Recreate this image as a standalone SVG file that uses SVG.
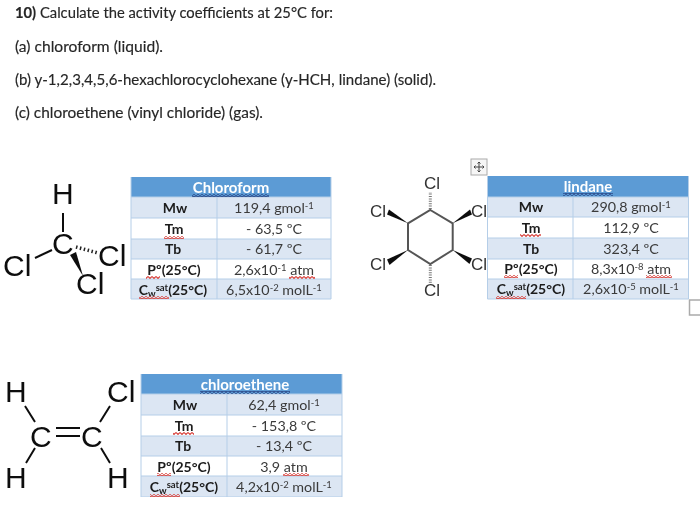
<svg xmlns="http://www.w3.org/2000/svg" width="700" height="508" viewBox="0 0 700 508">
<style>
.q{font:14.8px Lato,"Liberation Sans",sans-serif;fill:#262626;stroke:#262626;stroke-width:.15}
.b{font-weight:700}
.h{font:700 15px Lato,"Liberation Sans",sans-serif;fill:#fff;text-anchor:middle}
.l{font:700 14px Lato,"Liberation Sans",sans-serif;fill:#1c1c1c;text-anchor:middle}
.v{font:14.300px Lato,"Liberation Sans",sans-serif;fill:#3a3a3a;text-anchor:middle}
.s{font-size:9.500px}
.at{font:30px "Liberation Sans",Arial,sans-serif;fill:#111}
.at2{font:17px "Liberation Sans",Arial,sans-serif;fill:#333}
.bond{stroke:#111;stroke-width:2;fill:none}
.ring{stroke:#555;stroke-width:2;fill:none}
.hash{stroke:#222;stroke-dasharray:1.500 2.500;fill:none}
.hash2{stroke:#777;stroke-width:3;stroke-dasharray:1 1.400;fill:none}
.top{fill:#5b9bd5}
.alt{fill:#dce6f3}
.wht{fill:#fff}
.grid{fill:none;stroke:#b5cee8;stroke-width:1}
</style>
<defs>
<filter id="soft" x="0" y="0" width="100%" height="100%"><feGaussianBlur stdDeviation="0.35"/></filter>
<pattern id="red" width="4" height="3" patternUnits="userSpaceOnUse"><path d="M0 .5L2 2.500L4 .5" fill="none" stroke="#d8423c" stroke-width="1.100"/></pattern>
<pattern id="blue" width="4" height="3" patternUnits="userSpaceOnUse"><path d="M0 .5L2 2.500L4 .5" fill="none" stroke="#2a4a8a" stroke-width="1.100"/></pattern>
</defs>
<rect width="700" height="508" fill="#fff"/>
<g filter="url(#soft)">
<g id="question">
<text class="q" x="15" y="18" textLength="318" lengthAdjust="spacingAndGlyphs"><tspan class="b">10)</tspan> Calculate the activity coefficients at 25°C for:</text>
<text class="q" x="15" y="52" textLength="148" lengthAdjust="spacingAndGlyphs">(a) chloroform (liquid).</text>
<text class="q" x="15" y="85" textLength="421" lengthAdjust="spacingAndGlyphs">(b) y-1,2,3,4,5,6-hexachlorocyclohexane (y-HCH, lindane) (solid).</text>
<text class="q" x="15" y="118" textLength="248" lengthAdjust="spacingAndGlyphs">(c) chloroethene (vinyl chloride) (gas).</text>
</g>

<g id="chloroform-molecule">
<text class="at" x="52" y="204">H</text>
<text class="at" x="52" y="254">C</text>
<text class="at" x="98" y="266">Cl</text>
<text class="at" x="3" y="276">Cl</text>
<text class="at" x="76" y="294">Cl</text>
<path class="bond" d="M63 213V232M35 258L52 250"/>
<path class="hash" d="M76 247L98 253" style="stroke-width:3.500"/>
<path d="M70 255L76 252L83 276Z" fill="#111"/>
</g>

<g id="chloroform-table">
<rect class="top" x="131" y="177" width="200" height="20"/>
<rect class="alt" x="131" y="197" width="200" height="21"/>
<rect class="wht" x="131" y="218" width="200" height="21"/>
<rect class="alt" x="131" y="239" width="200" height="20"/>
<rect class="wht" x="131" y="259" width="200" height="20"/>
<rect class="alt" x="131" y="279" width="200" height="20"/>
<path class="grid" d="M131 197H331M131 218H331M131 239H331M131 259H331M131 279H331M217 197V299M131 177V299M331 177V299M131 299H331"/>
<text class="h" x="231" y="193">Chloroform</text>
<rect x="192" y="194" width="77" height="3" fill="url(#blue)"/>
<text class="l" x="175" y="213">Mw</text>
<text class="v" x="274" y="213">119,4 gmol<tspan class="s" dy="-4">-1</tspan></text>
<text class="l" x="174" y="234">Tm</text>
<rect x="164" y="236" width="20" height="3" fill="url(#red)"/>
<text class="v" x="274" y="234">- 63,5 ºC</text>
<text class="l" x="173" y="254">Tb</text>
<text class="v" x="274" y="254">- 61,7 ºC</text>
<text class="l" x="174" y="275">Pº(25°C)</text>
<rect x="146" y="276" width="14" height="3" fill="url(#red)"/>
<text class="v" x="274" y="275">2,6x10<tspan class="s" dy="-4">-1</tspan><tspan dy="4"> atm</tspan></text>
<rect x="289" y="276" width="26" height="3" fill="url(#red)"/>
<text class="l" x="173" y="295">C<tspan class="s" dy="2">w</tspan><tspan class="s" dy="-6">sat</tspan><tspan dy="4">(25°C)</tspan></text>
<rect x="139" y="296" width="30" height="3" fill="url(#red)"/>
<text class="v" x="274" y="295">6,5x10<tspan class="s" dy="-4">-2</tspan><tspan dy="4"> molL</tspan><tspan class="s" dy="-4">-1</tspan></text>
</g>

<g id="lindane-molecule">
<path class="ring" d="M430.300 210L452.700 223.300V250L430.300 264L408 250V223.300Z"/>
<path d="M408 223.300L389 209.500L387 214.500Z" fill="#111"/>
<path d="M452.700 223.300L470 209.500L472 214.500Z" fill="#111"/>
<path d="M408 250L387 259.500L389.500 265Z" fill="#111"/>
<path d="M452.700 250L472 258.500L469.500 264Z" fill="#111"/>
<path class="hash2" d="M430.300 209V192M430.300 265V283"/>
<text class="at2" x="424" y="189">Cl</text>
<text class="at2" x="424" y="296">Cl</text>
<text class="at2" x="370" y="217">Cl</text>
<text class="at2" x="471" y="217">Cl</text>
<text class="at2" x="370" y="270">Cl</text>
<text class="at2" x="471" y="270">Cl</text>
</g>

<g id="move-handle">
<rect x="471" y="159" width="16" height="16" fill="#f6f6f6" stroke="#aaa"/>
<path d="M479 162V172M474 167H484M477.500 163.500L479 162L480.500 163.500M477.500 170.500L479 172L480.500 170.500M475.500 165.500L474 167L475.500 168.500M482.500 165.500L484 167L482.500 168.500" fill="none" stroke="#444" stroke-width="1"/>
</g>

<g id="lindane-table">
<rect class="top" x="487.500" y="176" width="201" height="21"/>
<rect class="alt" x="487.500" y="197" width="201" height="20"/>
<rect class="wht" x="487.500" y="217" width="201" height="21"/>
<rect class="alt" x="487.500" y="238" width="201" height="21"/>
<rect class="wht" x="487.500" y="259" width="201" height="20"/>
<rect class="alt" x="487.500" y="279" width="201" height="20"/>
<path class="grid" d="M487.500 197H688.500M487.500 217H688.500M487.500 238H688.500M487.500 259H688.500M487.500 279H688.500M573 197V299M487.500 176V299M688.500 176V299M487.500 299H688.500"/>
<text class="h" x="588" y="192">lindane</text>
<rect x="563" y="193" width="50" height="3" fill="url(#blue)"/>
<text class="l" x="531" y="212">Mw</text>
<text class="v" x="631" y="212">290,8 gmol<tspan class="s" dy="-4">-1</tspan></text>
<text class="l" x="531" y="233">Tm</text>
<rect x="520" y="234" width="21" height="3" fill="url(#red)"/>
<text class="v" x="631" y="233">112,9 ºC</text>
<text class="l" x="531" y="254">Tb</text>
<text class="v" x="631" y="254">323,4 ºC</text>
<text class="l" x="531" y="274">Pº(25°C)</text>
<rect x="504" y="275" width="14" height="3" fill="url(#red)"/>
<text class="v" x="631" y="274">8,3x10<tspan class="s" dy="-4">-8</tspan><tspan dy="4"> atm</tspan></text>
<rect x="646" y="275" width="26" height="3" fill="url(#red)"/>
<text class="l" x="531" y="294">C<tspan class="s" dy="2">w</tspan><tspan class="s" dy="-6">sat</tspan><tspan dy="4">(25°C)</tspan></text>
<rect x="496" y="296" width="30" height="3" fill="url(#red)"/>
<text class="v" x="631" y="294">2,6x10<tspan class="s" dy="-4">-5</tspan><tspan dy="4"> molL</tspan><tspan class="s" dy="-4">-1</tspan></text>
</g>

<path id="resize-handle" d="M700 300H689.500V315H700" fill="none" stroke="#aaa" stroke-width="1.500"/>

<g id="chloroethene-molecule">
<text class="at" x="5" y="402">H</text>
<text class="at" x="107" y="402">Cl</text>
<text class="at" x="30" y="447">C</text>
<text class="at" x="81" y="447">C</text>
<text class="at" x="5" y="488">H</text>
<text class="at" x="107" y="488">H</text>
<path class="bond" d="M25 406L35 422M110 406L100 422M35 448L26 463M101 448L110 463M56 428H80M56 436H80"/>
</g>

<g id="chloroethene-table">
<rect class="top" x="141" y="374" width="201" height="20"/>
<rect class="alt" x="141" y="394" width="201" height="21"/>
<rect class="wht" x="141" y="415" width="201" height="21"/>
<rect class="alt" x="141" y="436" width="201" height="20"/>
<rect class="wht" x="141" y="456" width="201" height="20"/>
<rect class="alt" x="141" y="476" width="201" height="21"/>
<path class="grid" d="M141 394H342M141 415H342M141 436H342M141 456H342M141 476H342M227 394V497M141 374V497M342 374V497M141 497H342"/>
<text class="h" x="245" y="390">chloroethene</text>
<rect x="200" y="391" width="90" height="3" fill="url(#blue)"/>
<text class="l" x="185" y="410">Mw</text>
<text class="v" x="284" y="410">62,4 gmol<tspan class="s" dy="-4">-1</tspan></text>
<text class="l" x="184" y="431">Tm</text>
<rect x="173" y="432" width="21" height="3" fill="url(#red)"/>
<text class="v" x="284" y="431">- 153,8 ºC</text>
<text class="l" x="183" y="451">Tb</text>
<text class="v" x="284" y="451">- 13,4 ºC</text>
<text class="l" x="184" y="472">Pº(25°C)</text>
<rect x="157" y="473" width="14" height="3" fill="url(#red)"/>
<text class="v" x="284" y="472">3,9 atm</text>
<rect x="283" y="473" width="26" height="3" fill="url(#red)"/>
<text class="l" x="184" y="492">C<tspan class="s" dy="2">w</tspan><tspan class="s" dy="-6">sat</tspan><tspan dy="4">(25°C)</tspan></text>
<rect x="150" y="494" width="30" height="3" fill="url(#red)"/>
<text class="v" x="284" y="492">4,2x10<tspan class="s" dy="-4">-2</tspan><tspan dy="4"> molL</tspan><tspan class="s" dy="-4">-1</tspan></text>
</g>
</g>
</svg>
